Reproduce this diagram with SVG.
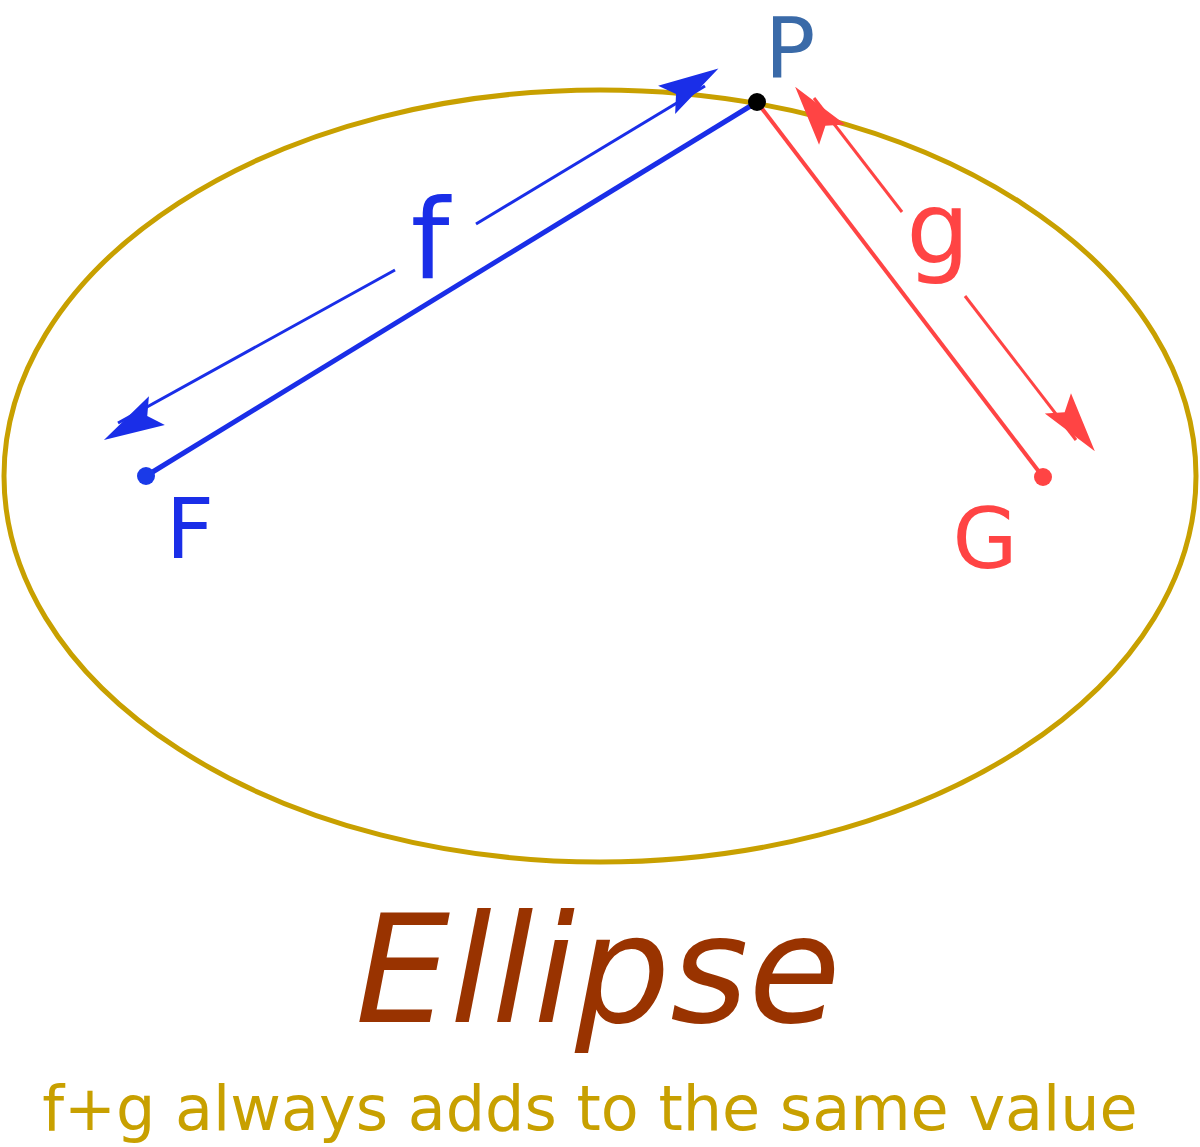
<svg xmlns="http://www.w3.org/2000/svg" width="1200" height="1147" viewBox="0 0 1200 1147">
<style>
.t{font-family:"DejaVu Sans","Liberation Sans",sans-serif}
</style>
<defs>
<marker id="ab" viewBox="0 0 20 16" refX="18" refY="8" markerWidth="20" markerHeight="16" markerUnits="userSpaceOnUse" orient="auto" overflow="visible">
<path d="M-40,-22 L70,8 L-40,38 L-20,8 Z" fill="#1a2ee8" transform="scale(0.55) translate(0,-8)"/>
</marker>
<marker id="ar" viewBox="0 0 20 16" refX="18" refY="8" markerWidth="20" markerHeight="16" markerUnits="userSpaceOnUse" orient="auto" overflow="visible">
<path d="M-40,-22 L70,8 L-40,38 L-20,8 Z" fill="#ff4444" transform="scale(0.55) translate(0,-8)"/>
</marker>
</defs>
<rect width="1200" height="1147" fill="#fff"/>
<g id="ellipse"><ellipse cx="600" cy="476" rx="596" ry="386" fill="none" stroke="#c8a000" stroke-width="5"/></g>
<g id="connectors">
<line x1="146" y1="476" x2="757" y2="102" stroke="#1a2ee8" stroke-width="5"/>
<line x1="757" y1="102" x2="1043" y2="477" stroke="#ff4444" stroke-width="4"/>
<line x1="476" y1="224" x2="705" y2="86" stroke="#1a2ee8" stroke-width="3" marker-end="url(#ab)"/>
<line x1="395" y1="270" x2="118" y2="423" stroke="#1a2ee8" stroke-width="3" marker-end="url(#ab)"/>
<line x1="902" y1="212" x2="814" y2="98" stroke="#ff4444" stroke-width="3" marker-end="url(#ar)"/>
<line x1="965" y1="296" x2="1076" y2="440" stroke="#ff4444" stroke-width="3" marker-end="url(#ar)"/>
</g>
<g id="P"><circle cx="757" cy="102" r="9" fill="#000"/><text class="t" x="790" y="78" font-size="84" fill="#3a6aa8" text-anchor="middle">P</text></g>
<g id="F"><circle cx="146" cy="476" r="9" fill="#1a3ae8"/><text class="t" x="190" y="558" font-size="84" fill="#1a2ee8" text-anchor="middle">F</text></g>
<g id="G"><circle cx="1043" cy="477" r="9" fill="#ff4444"/><text class="t" x="985" y="568" font-size="84" fill="#ff4444" text-anchor="middle">G</text></g>
<text class="t" x="430" y="278" font-size="110" fill="#1a2ee8" text-anchor="middle">f</text>
<text class="t" x="938" y="263" font-size="100" fill="#ff4444" text-anchor="middle">g</text>
<text class="t" x="598" y="1022" font-size="150" font-style="italic" fill="#993300" text-anchor="middle">Ellipse</text>
<text class="t" x="590" y="1130" font-size="62" fill="#c8a000" text-anchor="middle">f+g always adds to the same value</text>
</svg>
